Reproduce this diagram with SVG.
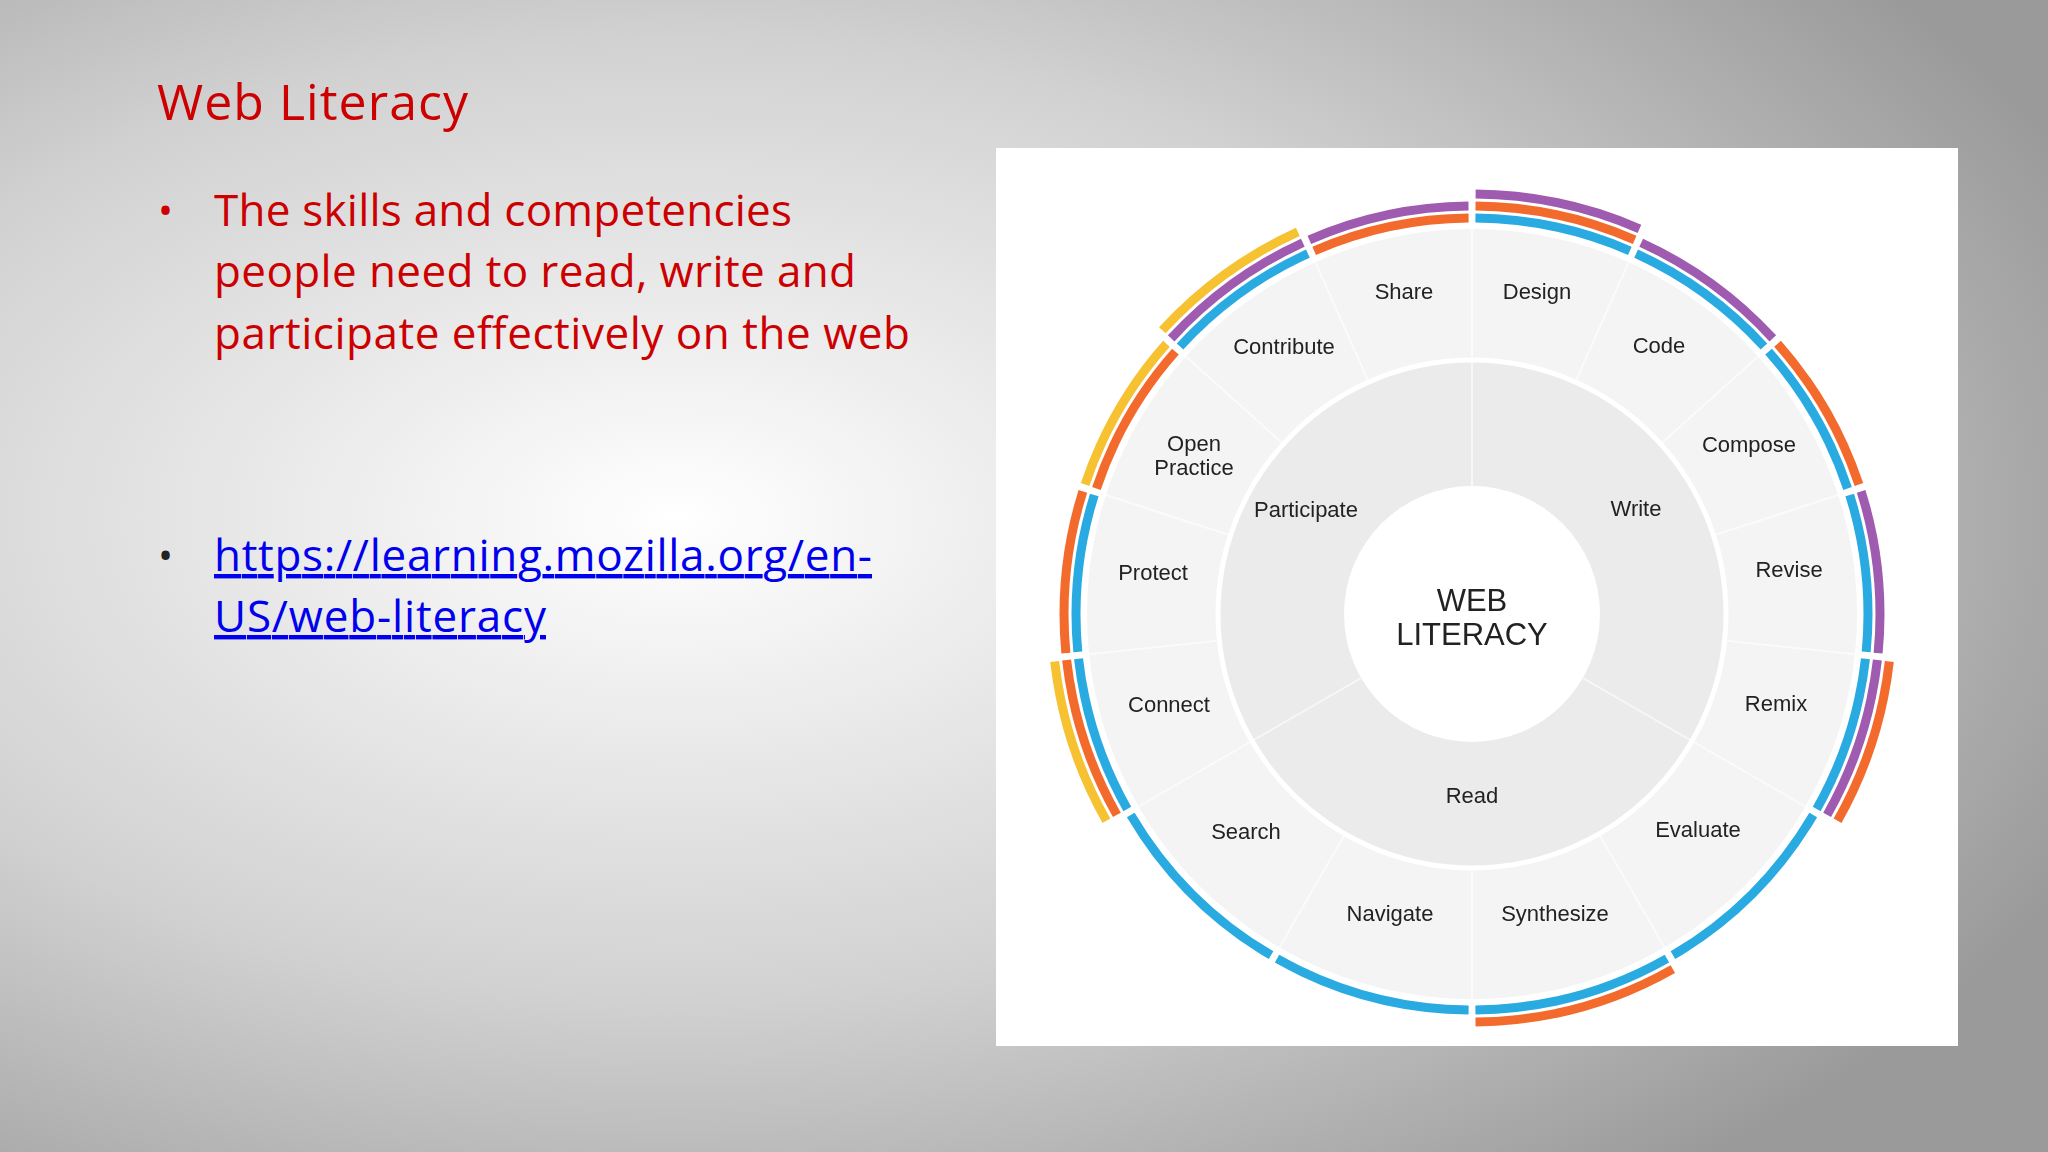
<svg xmlns="http://www.w3.org/2000/svg" width="2048" height="1152" viewBox="0 0 2048 1152">
<defs>
<radialGradient id="bg" cx="0.33" cy="0.45" r="0.75">
<stop offset="0" stop-color="#ffffff"/><stop offset="0.55" stop-color="#d2d2d2"/><stop offset="1" stop-color="#9a9a9a"/>
</radialGradient>
<style>
.t{font-family:"Liberation Sans",Arial,sans-serif;fill:#222;font-size:22px;text-anchor:middle;dominant-baseline:central}
.big{font-size:31px}
.arc{fill:none;stroke-width:9}
.b{stroke:#29abe2}.o{stroke:#f26b2d}.p{stroke:#9e5bb0}.y{stroke:#f6c232}
.div{stroke:#ffffff;stroke-width:2;opacity:0.6}
.red{font-family:"Open Sans","Liberation Sans",sans-serif;fill:#cc0000}
.lnk{font-family:"Open Sans","Liberation Sans",sans-serif;fill:#0000ee;text-decoration:underline}
</style>
</defs>
<rect width="2048" height="1152" fill="url(#bg)"/>
<g id="title"><text class="red" x="157" y="120" font-size="50" textLength="311">Web Literacy</text></g>
<g id="bullets">
<text class="red" x="158" y="225" font-size="40">•</text>
<text class="red" x="214" y="226" font-size="44" textLength="578">The skills and competencies</text>
<text class="red" x="214" y="287" font-size="44" textLength="642">people need to read, write and</text>
<text class="red" x="214" y="349" font-size="44" textLength="696">participate effectively on the web</text>
<text class="red" x="158" y="570" font-size="40" style="fill:#222">•</text>
<text class="lnk" x="214" y="571" font-size="44" textLength="658">https://learning.mozilla.org/en-</text>
<text class="lnk" x="214" y="632" font-size="44" textLength="332">US/web-literacy</text>
</g>
<rect x="996" y="148" width="962" height="898" fill="#ffffff"/>
<g id="wheel">
<circle cx="1472" cy="614" r="385" fill="#f4f4f5"/>
<circle cx="1472" cy="614" r="254" fill="#ebebec" stroke="#ffffff" stroke-width="5"/>
<circle cx="1472" cy="614" r="128" fill="#ffffff"/>
<g transform="translate(1472 614)">
<g class="div">
<line x1="0" y1="-254" x2="0" y2="-385" transform="rotate(0)"/>
<line x1="0" y1="-254" x2="0" y2="-385" transform="rotate(24)"/>
<line x1="0" y1="-254" x2="0" y2="-385" transform="rotate(48)"/>
<line x1="0" y1="-254" x2="0" y2="-385" transform="rotate(72)"/>
<line x1="0" y1="-254" x2="0" y2="-385" transform="rotate(96)"/>
<line x1="0" y1="-254" x2="0" y2="-385" transform="rotate(120)"/>
<line x1="0" y1="-254" x2="0" y2="-385" transform="rotate(150)"/>
<line x1="0" y1="-254" x2="0" y2="-385" transform="rotate(180)"/>
<line x1="0" y1="-254" x2="0" y2="-385" transform="rotate(210)"/>
<line x1="0" y1="-254" x2="0" y2="-385" transform="rotate(240)"/>
<line x1="0" y1="-254" x2="0" y2="-385" transform="rotate(264)"/>
<line x1="0" y1="-254" x2="0" y2="-385" transform="rotate(288)"/>
<line x1="0" y1="-254" x2="0" y2="-385" transform="rotate(312)"/>
<line x1="0" y1="-254" x2="0" y2="-385" transform="rotate(336)"/>
<line x1="0" y1="-128" x2="0" y2="-254" transform="rotate(0)"/>
<line x1="0" y1="-128" x2="0" y2="-254" transform="rotate(120)"/>
<line x1="0" y1="-128" x2="0" y2="-254" transform="rotate(240)"/>
</g>
</g>
</g>
<g id="connectors" transform="rotate(-90 1472 614)">
<circle class="arc b" cx="1472" cy="614" r="396" pathLength="360" stroke-dasharray="23 337" stroke-dashoffset="-0.5"/>
<circle class="arc b" cx="1472" cy="614" r="396" pathLength="360" stroke-dasharray="23 337" stroke-dashoffset="-24.5"/>
<circle class="arc b" cx="1472" cy="614" r="396" pathLength="360" stroke-dasharray="23 337" stroke-dashoffset="-48.5"/>
<circle class="arc b" cx="1472" cy="614" r="396" pathLength="360" stroke-dasharray="23 337" stroke-dashoffset="-72.5"/>
<circle class="arc b" cx="1472" cy="614" r="396" pathLength="360" stroke-dasharray="23 337" stroke-dashoffset="-96.5"/>
<circle class="arc b" cx="1472" cy="614" r="396" pathLength="360" stroke-dasharray="29 331" stroke-dashoffset="-120.5"/>
<circle class="arc b" cx="1472" cy="614" r="396" pathLength="360" stroke-dasharray="29 331" stroke-dashoffset="-150.5"/>
<circle class="arc b" cx="1472" cy="614" r="396" pathLength="360" stroke-dasharray="29 331" stroke-dashoffset="-180.5"/>
<circle class="arc b" cx="1472" cy="614" r="396" pathLength="360" stroke-dasharray="29 331" stroke-dashoffset="-210.5"/>
<circle class="arc b" cx="1472" cy="614" r="396" pathLength="360" stroke-dasharray="23 337" stroke-dashoffset="-240.5"/>
<circle class="arc b" cx="1472" cy="614" r="396" pathLength="360" stroke-dasharray="23 337" stroke-dashoffset="-264.5"/>
<circle class="arc o" cx="1472" cy="614" r="396" pathLength="360" stroke-dasharray="23 337" stroke-dashoffset="-288.5"/>
<circle class="arc b" cx="1472" cy="614" r="396" pathLength="360" stroke-dasharray="23 337" stroke-dashoffset="-312.5"/>
<circle class="arc o" cx="1472" cy="614" r="396" pathLength="360" stroke-dasharray="23 337" stroke-dashoffset="-336.5"/>

<circle class="arc o" cx="1472" cy="614" r="408" pathLength="360" stroke-dasharray="23 337" stroke-dashoffset="-0.5"/>
<circle class="arc p" cx="1472" cy="614" r="408" pathLength="360" stroke-dasharray="23 337" stroke-dashoffset="-24.5"/>
<circle class="arc o" cx="1472" cy="614" r="408" pathLength="360" stroke-dasharray="23 337" stroke-dashoffset="-48.5"/>
<circle class="arc p" cx="1472" cy="614" r="408" pathLength="360" stroke-dasharray="23 337" stroke-dashoffset="-72.5"/>
<circle class="arc p" cx="1472" cy="614" r="408" pathLength="360" stroke-dasharray="23 337" stroke-dashoffset="-96.5"/>
<circle class="arc o" cx="1472" cy="614" r="408" pathLength="360" stroke-dasharray="29 331" stroke-dashoffset="-150.5"/>
<circle class="arc o" cx="1472" cy="614" r="408" pathLength="360" stroke-dasharray="23 337" stroke-dashoffset="-240.5"/>
<circle class="arc o" cx="1472" cy="614" r="408" pathLength="360" stroke-dasharray="23 337" stroke-dashoffset="-264.5"/>
<circle class="arc y" cx="1472" cy="614" r="408" pathLength="360" stroke-dasharray="23 337" stroke-dashoffset="-288.5"/>
<circle class="arc p" cx="1472" cy="614" r="408" pathLength="360" stroke-dasharray="23 337" stroke-dashoffset="-312.5"/>
<circle class="arc p" cx="1472" cy="614" r="408" pathLength="360" stroke-dasharray="23 337" stroke-dashoffset="-336.5"/>

<circle class="arc p" cx="1472" cy="614" r="420" pathLength="360" stroke-dasharray="23 337" stroke-dashoffset="-0.5"/>
<circle class="arc o" cx="1472" cy="614" r="420" pathLength="360" stroke-dasharray="23 337" stroke-dashoffset="-96.5"/>
<circle class="arc y" cx="1472" cy="614" r="420" pathLength="360" stroke-dasharray="23 337" stroke-dashoffset="-240.5"/>
<circle class="arc y" cx="1472" cy="614" r="420" pathLength="360" stroke-dasharray="23 337" stroke-dashoffset="-312.5"/>
</g>
<g id="labels">
<text class="t" x="1404" y="291">Share</text>
<text class="t" x="1537" y="291">Design</text>
<text class="t" x="1659" y="345">Code</text>
<text class="t" x="1284" y="346">Contribute</text>
<text class="t" x="1749" y="444">Compose</text>
<text class="t" x="1194" y="443">Open</text>
<text class="t" x="1194" y="467">Practice</text>
<text class="t" x="1306" y="509">Participate</text>
<text class="t" x="1636" y="508">Write</text>
<text class="t" x="1153" y="572">Protect</text>
<text class="t" x="1789" y="569">Revise</text>
<text class="t big" x="1472" y="600">WEB</text>
<text class="t big" x="1472" y="634">LITERACY</text>
<text class="t" x="1169" y="704">Connect</text>
<text class="t" x="1776" y="703">Remix</text>
<text class="t" x="1472" y="795">Read</text>
<text class="t" x="1246" y="831">Search</text>
<text class="t" x="1698" y="829">Evaluate</text>
<text class="t" x="1390" y="913">Navigate</text>
<text class="t" x="1555" y="913">Synthesize</text>
</g>
</svg>
